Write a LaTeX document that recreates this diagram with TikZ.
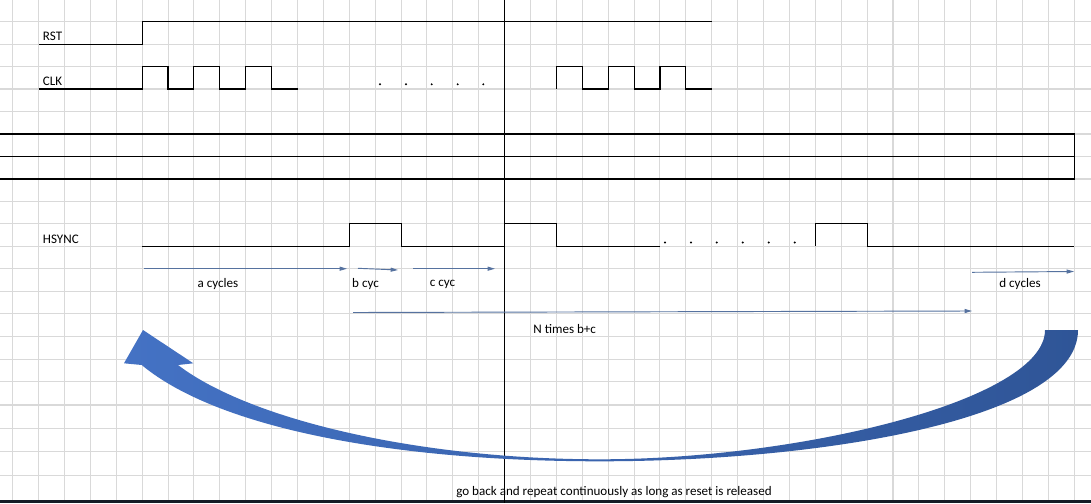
\documentclass[tikz,border=0pt]{standalone}
\usepackage{fontspec}
\setmainfont{Carlito}
\usetikzlibrary{arrows.meta}
\definecolor{gridc}{HTML}{D9D9D9}
\definecolor{arrc}{HTML}{4472C4}
\definecolor{arrd}{HTML}{2F5597}
\definecolor{thinc}{HTML}{56729F}
\definecolor{barc}{HTML}{141C26}
\begin{document}
\begin{tikzpicture}[x=0.75pt,y=-0.75pt,
  wave/.style={black, line width=0.8pt},
  gridline/.style={gridc, line width=0.8pt},
  lbl/.style={font=\fontsize{9.8}{11}\selectfont, inner sep=0pt, anchor=west},
  clbl/.style={font=\fontsize{9.8}{11}\selectfont, inner sep=0pt},
  span/.style={thinc, line width=0.7pt, -{Stealth[length=5.5pt,width=3pt,inset=0pt]}},
  dotmark/.style={fill=black, circle, inner sep=0pt, minimum size=1.6pt}
]
\useasboundingbox (0,0) rectangle (1091,503);
\fill[white] (0,0) rectangle (1091,503);
% grid
\foreach \k in {0,...,41} \draw[gridline] ({12.7+25.89*\k},0) -- ({12.7+25.89*\k},499.5);
\foreach \y in {21.7,44.3,66.7,89,111.7,134,156.3,179,201.2,223.3,246.3,268.7,291.3,313.5,336.3,359.3,381.7,405,428.3,451.9,475.5}
  \draw[gridline] (0,\y) -- (1091,\y);
% bottom bar
\fill[barc] (0,499.5) rectangle (1091,503);
% axis
\coordinate (axT) at (504.6,0);
\coordinate (axB) at (504.6,503);
\draw[wave] (axT) -- (axB);
% labels
\node[lbl] (rst) at (42.7,36) {RST};
\node[lbl] (clk) at (42.7,81) {CLK};
\node[lbl] (hs) at (42.7,239) {HSYNC};
% RST
\draw[wave] (38.6,44.3) -- (142.1,44.3) -- (142.1,21.7) -- (711.7,21.7);
% CLK
\draw[wave] (38.6,89) -- (142.1,89) -- (142.1,66.7) -- (168,66.7) -- (168,89) -- (193.9,89) -- (193.9,66.7) -- (219.8,66.7) -- (219.8,89) -- (245.7,89) -- (245.7,66.7) -- (271.6,66.7) -- (271.6,89) -- (297.5,89);
\draw[wave] (556.4,89) -- (556.4,66.7) -- (582.3,66.7) -- (582.3,89) -- (608.2,89) -- (608.2,66.7) -- (634.1,66.7) -- (634.1,89) -- (660,89) -- (660,66.7) -- (685.8,66.7) -- (685.8,89) -- (711.7,89);
\foreach \x [count=\i] in {380,406,431.7,457.7,483.3} \node[dotmark] (cd\i) at (\x,84.3) {};
% band
\draw[wave] (0,134) -- (1074.2,134) -- (1074.2,179) -- (0,179);
\draw[wave] (0,156.3) -- (1074.2,156.3);
% HSYNC
\draw[wave] (142.1,246.3) -- (349.3,246.3) -- (349.3,223.3) -- (401.1,223.3) -- (401.1,246.3) -- (504.6,246.3) -- (504.6,223.3) -- (556.4,223.3) -- (556.4,246.3) -- (660,246.3);
\draw[wave] (815.3,246.3) -- (815.3,223.3) -- (867.1,223.3) -- (867.1,246.3) -- (1074.2,246.3);
\foreach \x [count=\i] in {665,691,716.7,742.7,768.7,794.7} \node[dotmark] (hd\i) at (\x,242.5) {};
% spans
\coordinate (aS) at (144,268.7); \coordinate (aE) at (347,268.7);
\coordinate (bS) at (358,268.3); \coordinate (bE) at (398,270);
\coordinate (cS) at (413,268.7); \coordinate (cE) at (495,268.7);
\coordinate (nS) at (353,312.5); \coordinate (nE) at (972,311);
\coordinate (dS) at (972,272.3); \coordinate (dE) at (1074,271.5);
\draw[span] (aS) -- (aE);
\draw[span] (bS) -- (bE);
\draw[span] (cS) -- (cE);
\draw[span] (nS) -- (nE);
\draw[span] (dS) -- (dE);
\node[clbl] (la) at (218,284.3) {a cycles};
\node[clbl] (lb) at (365.5,284.3) {b cyc};
\node[clbl] (lc) at (442.5,284.3) {c cyc};
\node[clbl] (ln) at (564.7,329) {N times b+c};
\node[clbl] (ld) at (1020,284) {d cycles};
% big curved arrow
\shade[left color=arrc, middle color=arrc, right color=arrd]
  (1045,330) -- (1078,330) .. controls (1078,420) and (820,461.3) .. (600,461.3)
  .. controls (400,461.3) and (220,430) .. (141.7,365) -- (124,363.3) -- (143,330) -- (193.3,363.3) -- (178,365)
  .. controls (250,420) and (420,459.3) .. (600,459.3)
  .. controls (800,459.3) and (1045,400) .. (1045,330) -- cycle;
\node[clbl] (note) at (614,491.7) {go back and repeat continuously as long as reset is released};
\end{tikzpicture}
\end{document}
